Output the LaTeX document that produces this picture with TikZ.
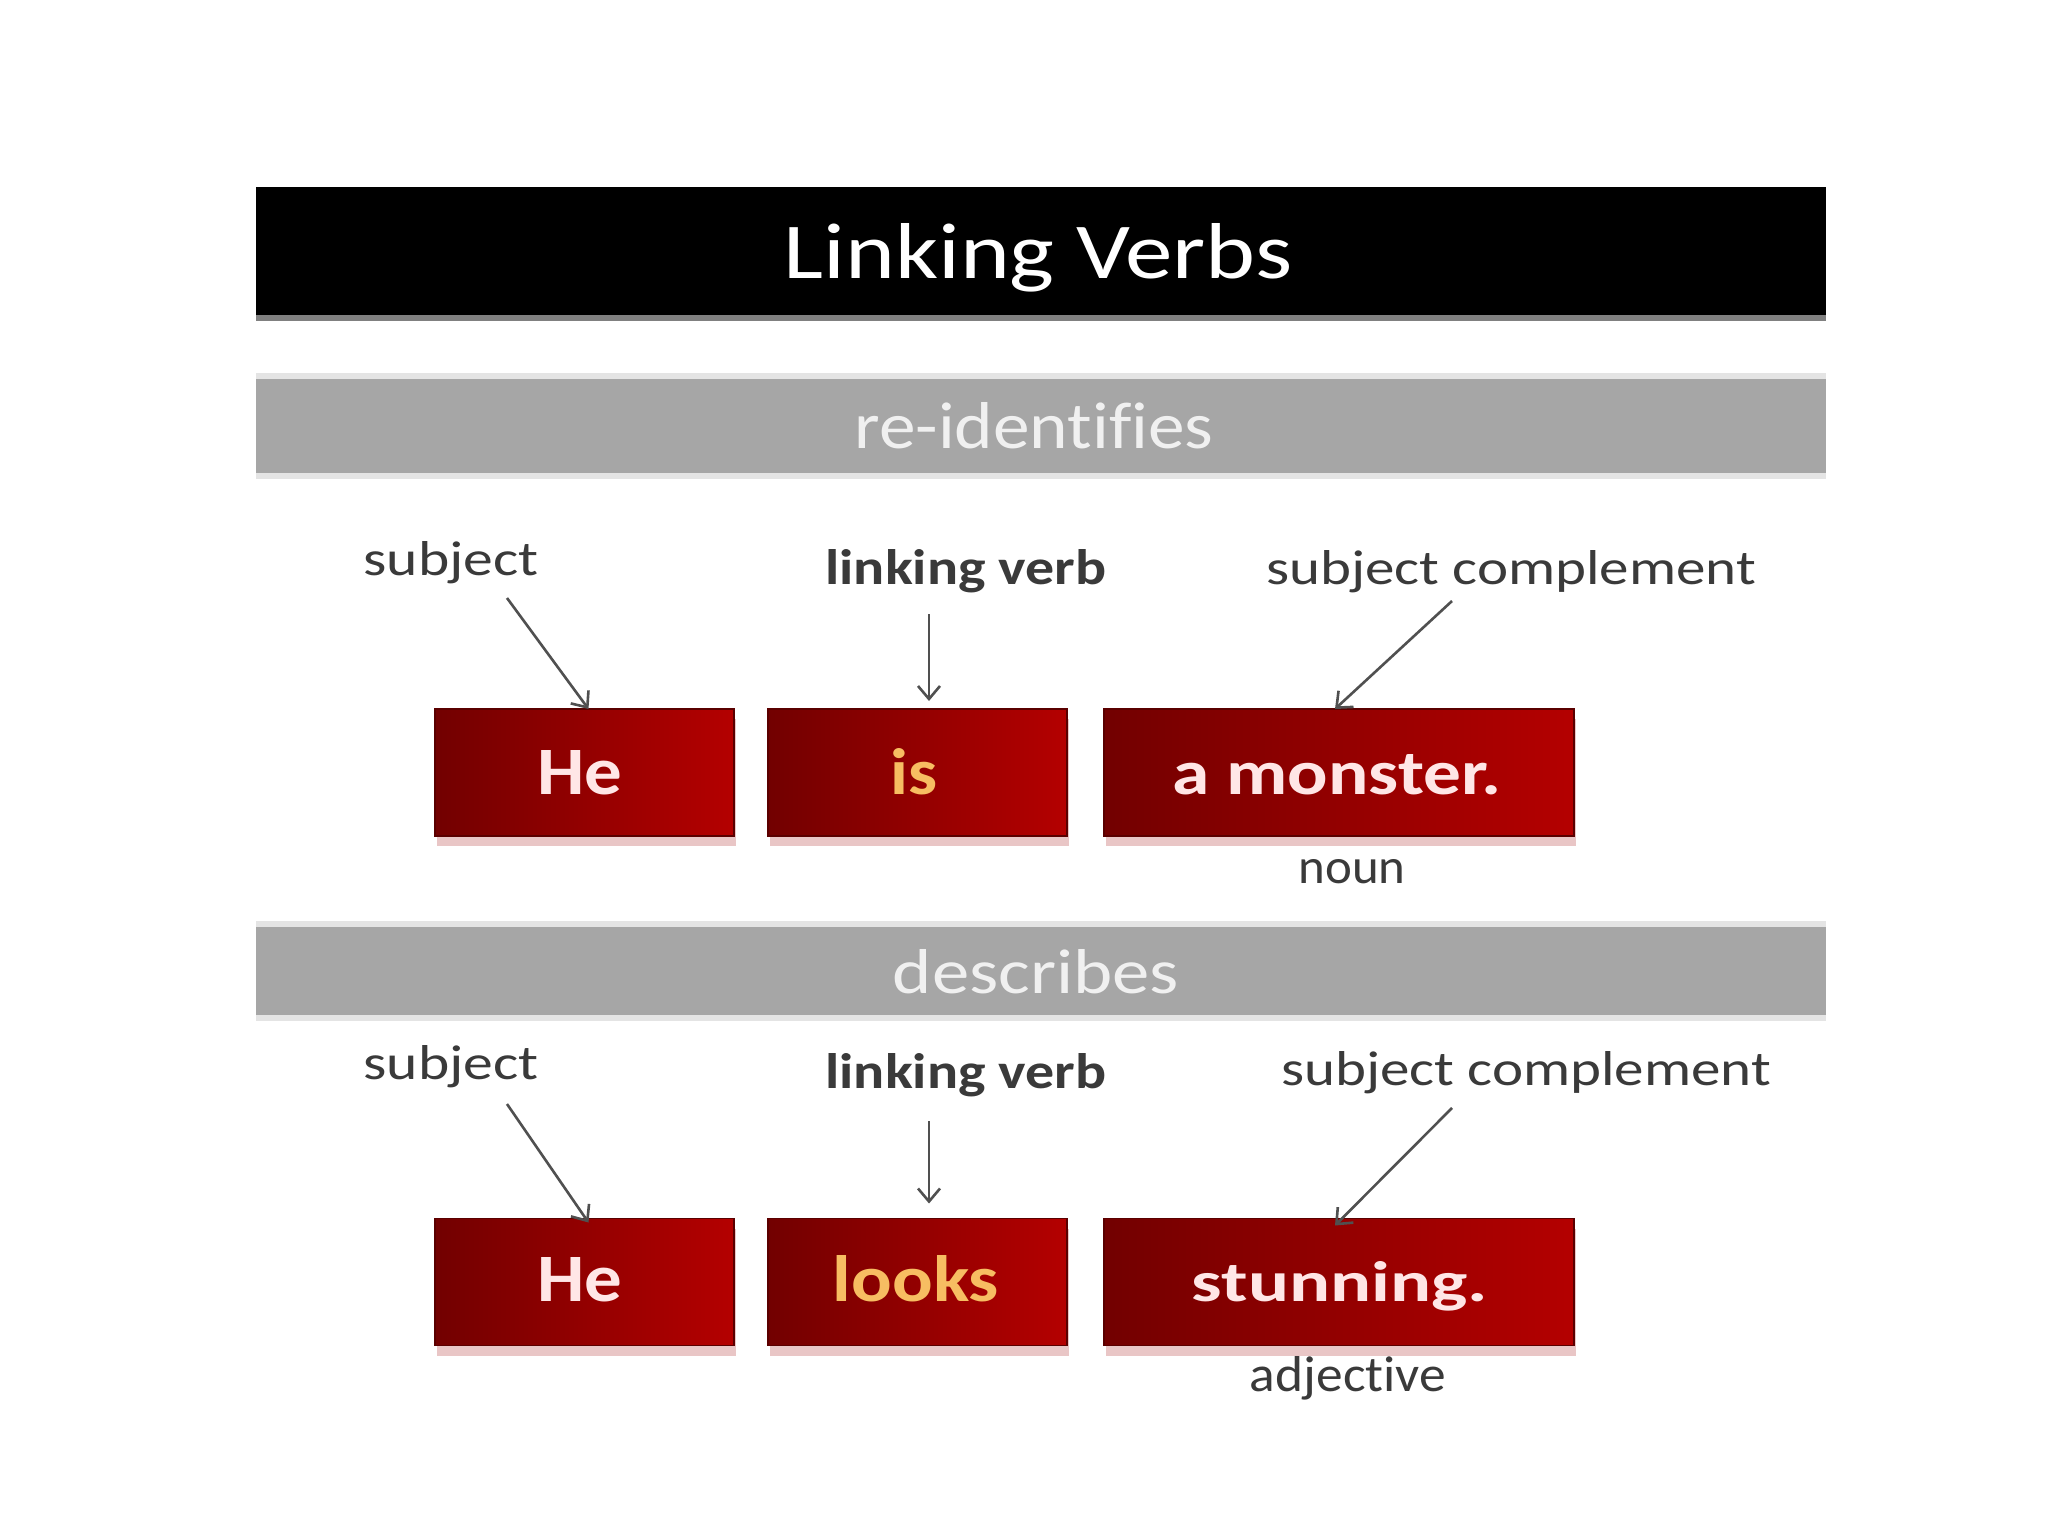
\documentclass[tikz,border=0pt]{standalone}
\usepackage{fontspec}
\setmainfont{Carlito}[Ligatures={NoCommon,NoContextual}]
\usetikzlibrary{arrows.meta,shadows}
\definecolor{barblack}{HTML}{000000}
\definecolor{barstrip}{HTML}{808080}
\definecolor{bargray}{HTML}{A6A6A6}
\definecolor{barlight}{HTML}{E4E4E4}
\definecolor{bartext}{HTML}{F0F0F0}
\definecolor{reddark}{HTML}{720000}
\definecolor{redlight}{HTML}{B40000}
\definecolor{rededge}{HTML}{5A0000}
\definecolor{redshadow}{HTML}{E2B4B4}
\definecolor{wordwhite}{HTML}{FFE6E6}
\definecolor{wordgold}{HTML}{F7BD62}
\definecolor{labelgray}{HTML}{3A3A3A}
\definecolor{arrowgray}{HTML}{505050}
\newcommand\fitt[3]{\resizebox{#1pt}{#2pt}{#3}}
\begin{document}
\begin{tikzpicture}[x=1pt,y=-1pt,
  bar/.style={inner sep=0pt,outer sep=0pt,anchor=north west},
  txt/.style={inner sep=0pt,outer sep=0pt,anchor=base},
  redbox/.style={inner sep=0pt,outer sep=0pt,minimum height=127pt,
    left color=reddark,right color=redlight,draw=rededge,line width=1.5pt,
    drop shadow={shadow xshift=2pt,shadow yshift=-10pt,fill=redshadow,opacity=0.75}},
  lbl/.style={txt,text=labelgray},
  word/.style={txt,font=\bfseries},
  arr/.style={draw=arrowgray,line width=2.6pt,-{Straight Barb[length=13pt,width=22pt]}}]
\useasboundingbox (0,0) rectangle (2048,1536);
\fill[white] (0,0) rectangle (2048,1536);

% title bar
\node[bar,fill=barblack,minimum width=1570pt,minimum height=128pt] (titlebar) at (256,187) {};
\node[bar,fill=barstrip,minimum width=1570pt,minimum height=6pt] (titlestrip) at (256,315) {};
\node[txt,text=white] (title) at (1038,278) {\fitt{509}{55}{Linking Verbs}};

% gray bar 1
\node[bar,fill=barlight,minimum width=1570pt,minimum height=106pt] (g1back) at (256,373) {};
\node[bar,fill=bargray,minimum width=1570pt,minimum height=94pt] (g1) at (256,379) {};
\node[txt,text=bartext] (g1t) at (1034,448) {\fitt{359}{46}{re-identifies}};

% gray bar 2
\node[bar,fill=barlight,minimum width=1570pt,minimum height=100pt] (g2back) at (256,921) {};
\node[bar,fill=bargray,minimum width=1570pt,minimum height=88pt] (g2) at (256,927) {};
\node[txt,text=bartext] (g2t) at (1036,993) {\fitt{286}{44}{describes}};

% row 1 boxes
\node[redbox,minimum width=299pt] (he1) at (584.5,772.5) {};
\node[redbox,minimum width=299pt] (is1) at (917.5,772.5) {};
\node[redbox,minimum width=470pt] (mon1) at (1339,772.5) {};
\node[word,text=wordwhite] (he1t) at (580,794) {\fitt{85}{44}{He}};
\node[word,text=wordgold] (is1t) at (914,794) {\fitt{47}{46}{is}};
\node[word,text=wordwhite] (mon1t) at (1337,794) {\fitt{329}{40}{a monster.}};

% row 1 labels
\node[lbl] (sub1) at (451,575) {\fitt{175}{34}{subject}};
\node[lbl,font=\bfseries] (lv1) at (966,584) {\fitt{281}{35}{linking verb}};
\node[lbl] (sc1) at (1511,584) {\fitt{490}{34}{subject complement}};
\node[lbl] (noun) at (1352,883) {\fitt{107}{24}{noun}};

\coordinate (a1s) at (507,598);
\coordinate (a2s) at (929,614);
\coordinate (a3s) at (1452,601);
\draw[arr] (a1s) -- ([xshift=4pt]he1.north);
\draw[arr] (a2s) -- ([xshift=11.5pt,yshift=8pt]is1.north);
\draw[arr] (a3s) -- ([xshift=-4pt]mon1.north);

% row 2 boxes
\node[redbox,minimum width=299pt] (he2) at (584.5,1282) {};
\node[redbox,minimum width=299pt] (lk2) at (917.5,1282) {};
\node[redbox,minimum width=470pt] (st2) at (1339,1282) {};
\node[word,text=wordwhite] (he2t) at (580,1301) {\fitt{85}{44}{He}};
\node[word,text=wordgold] (lk2t) at (916,1301) {\fitt{166}{46}{looks}};
\node[word,text=wordwhite] (st2t) at (1340,1301) {\fitt{296}{40}{stunning.}};

% row 2 labels
\node[lbl] (sub2) at (451,1079) {\fitt{175}{34}{subject}};
\node[lbl,font=\bfseries] (lv2) at (966,1088) {\fitt{281}{35}{linking verb}};
\node[lbl] (sc2) at (1526,1085) {\fitt{490}{34}{subject complement}};
\node[lbl] (adj) at (1348,1391) {\fitt{196}{35}{adjective}};

\coordinate (b1s) at (507,1104);
\coordinate (b2s) at (929,1121);
\coordinate (b3s) at (1452,1108);
\draw[arr] (b1s) -- ([xshift=4pt,yshift=-4pt]he2.north);
\draw[arr] (b2s) -- ([xshift=11.5pt,yshift=15pt]lk2.north);
\draw[arr] (b3s) -- ([xshift=-4pt,yshift=-7pt]st2.north);
\end{tikzpicture}
\end{document}
